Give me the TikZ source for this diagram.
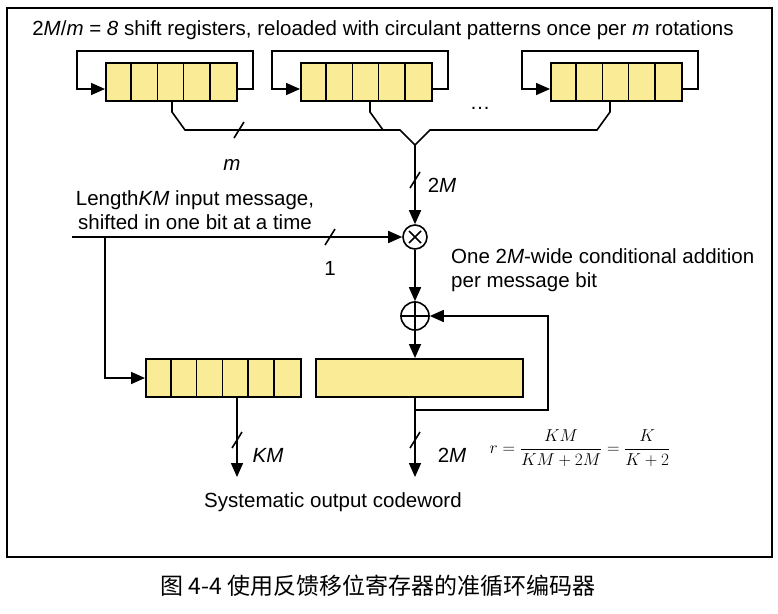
\documentclass[tikz,border=0pt]{standalone}
\usepackage{fontspec}
\setmainfont{Liberation Sans}
\newfontfamily\cjk{Noto Sans CJK SC}
\usetikzlibrary{calc,positioning,arrows.meta}
\definecolor{regfill}{RGB}{250,235,150}
\begin{document}
\begin{tikzpicture}[x=1pt,y=-1pt,
    every node/.style={font=\fontsize{20.5}{24}\selectfont},
    reg/.style={line width=2pt,fill=regfill,draw,rectangle,anchor=north west,inner sep=0pt},
    wire/.style={line width=1.6pt},
    arr/.style={line width=1.6pt,-{Triangle[length=14pt,width=12pt]}},
    op/.style={circle,draw,line width=1.6pt,inner sep=0pt,minimum size=24pt},
    slash/.style={line width=1.6pt}
    ]
  \useasboundingbox (0,0) rectangle (778,613);
  \draw[line width=1.3pt] (7,8) rectangle (772,557);

  \node (title) at (383,30) {2\textit{M}/\textit{m} = \textit{8} shift registers, reloaded with circulant patterns once per \textit{m} rotations};

  % top shift registers
  \foreach \n/\x in {r1/105,r2/300,r3/550}{
    \node (\n) [reg,minimum width=131pt,minimum height=38pt] at (\x,62) {};
    \foreach \i in {1,...,4}
      \draw[line width=1.6pt] (\x+26.2*\i,62) -- (\x+26.2*\i,100);
    \draw[arr] ($(\n.east)+(0,7)$) -| ++(15,-38) -| ($(\n.west)+(-28,7)$) -- ($(\n.west)+(0,7)$);
  }
  \node (dots) at (480,108) {\dots};

  % bus to the multiplier
  \coordinate (j) at (415,145);
  \draw[wire] (172,100) -- (172,112) -- (185,130) -- (400,130) -- (j);
  \draw[wire] (370,100) -- (370,112) -- (383,130);
  \draw[wire] (610,100) -- (610,112) -- (597,130) -- (430,130) -- (j);
  \draw[slash] (234,138) -- (244,122);
  \node (m) at (232,165) {\textit{m}};

  \node (mul) [op] at (415,237) {};
  \draw[line width=1.6pt] ($(mul.center)+(-6,-6)$) -- ++(12,12) ($(mul.center)+(6,-6)$) -- ++(-12,12);
  \draw[arr] (j) -- (mul);
  \draw[slash] (410,188) -- (420,172);
  \node (w2M) at (442,185) {2\textit{M}};

  % message input
  \node (msg) [align=center] at (195,210) {Length\textit{KM} input message,\\shifted in one bit at a time};
  \coordinate (in) at (72,237);
  \draw[arr] (in) -- (mul);
  \draw[slash] (325,245) -- (335,229);
  \node (one) at (330,268) {1};

  \node (add) [op,minimum size=28pt] at (415,316) {};
  \draw[line width=1.6pt] (add.north) -- (add.south) (add.west) -- (add.east);
  \draw[arr] (mul) -- (add);
  \node (cond) [anchor=north west,align=left,inner sep=0pt] at (451,248) {One 2\textit{M}-wide conditional addition\\per message bit};

  % message register and parity register
  \node (sysreg) [reg,minimum width=155pt,minimum height=38pt] at (145,358) {};
  \foreach \i in {1,...,5}
    \draw[line width=1.6pt] (145+25.8*\i,358) -- (145+25.8*\i,396);
  \node (parreg) [reg,minimum width=207pt,minimum height=38pt] at (315,358) {};
  \draw[arr] (105,237) |- (sysreg.west);
  \draw[arr] (add) -- (parreg.north -| add);
  \coordinate (fb) at (415,410);
  \draw[arr] (parreg.south -| add) -- (fb) -| (548,316) -- (add);

  % outputs
  \coordinate (o1) at (237,477);
  \coordinate (o2) at (415,477);
  \draw[arr] (237,396) -- (o1);
  \draw[arr] (fb) -- (o2);
  \draw[slash] (232,448) -- (242,432);
  \draw[slash] (410,448) -- (420,432);
  \node (lKM) at (268,455) {\textit{KM}};
  \node (l2M) at (452,455) {2\textit{M}};
  \node (rate) at (580,448) {\fontsize{16}{18}\selectfont$\displaystyle r=\frac{KM}{KM+2M}=\frac{K}{K+2}$};
  \node (out) at (333,502) {Systematic output codeword};

  \node (cap) at (378,586) {\cjk\fontsize{23}{26}\selectfont 图 4-4 使用反馈移位寄存器的准循环编码器};
\end{tikzpicture}
\end{document}
